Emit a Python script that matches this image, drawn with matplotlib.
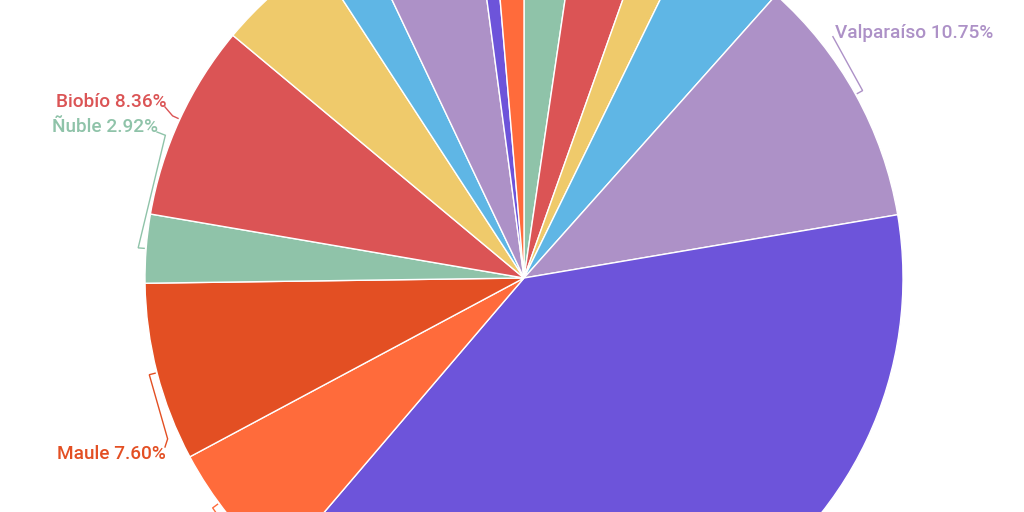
import numpy as np
import matplotlib
matplotlib.use("Agg")
from matplotlib import pyplot as plt

plt.rcParams['font.family'] = ['Roboto', 'DejaVu Sans']

# share by region (%), north to south
regions = ['Tarapacá', 'Antofagasta', 'Atacama', 'Coquimbo', 'Valparaíso',
           'Metropolitana', "O'Higgins", 'Maule', 'Ñuble', 'Biobío',
           'Araucanía', 'Los Ríos', 'Los Lagos', 'Aysén', 'Magallanes']
shares = [2.33, 3.10, 1.81, 4.34, 10.75, 38.91, 5.94, 7.60, 2.92, 8.36,
          4.75, 2.14, 4.94, 0.75, 1.36]

palette = ['#8fc3a9', '#db5455', '#efca6b', '#5fb6e5', '#ad91c7',
           '#6d54da', '#ff6b3b', '#e34f23']
colors = [palette[i % len(palette)] for i in range(len(shares))]

W, H = 1024, 512
cx, cy = 524, H - 278
R = 379

fig = plt.figure(figsize=(W / 100, H / 100), dpi=100)
ax = fig.add_axes([0, 0, 1, 1])
ax.pie(shares, colors=colors, center=(cx, cy), radius=R, startangle=90,
       counterclock=False, wedgeprops=dict(edgecolor='white', linewidth=1.0))
ax.set_xlim(0, W)
ax.set_ylim(0, H)
ax.set_aspect('equal')
ax.axis('off')

total = float(sum(shares))
cum = np.cumsum([0] + shares)
mids = {r: 360 * (cum[i] + shares[i] / 2) / total for i, r in enumerate(regions)}


def P(a, r):
    # angle clockwise from 12 o'clock, returns data coords (y up)
    t = np.radians(a)
    return cx + r * np.sin(t), cy + r * np.cos(t)


def px(x, y):
    return x, H - y


# label layout: (extra leader points after the tick, text x, text y (px from top), ha)
labels = {
    'Valparaíso': ([P(52, 392)], 835, 31, 'left'),
    'Biobío': ([px(165, 107)], 166, 100, 'right'),
    'Ñuble': ([P(291.7, 386), px(157, 132)], 158, 125, 'right'),
    'Maule': ([P(245.7, 391), px(165, 447)], 166, 452, 'right'),
}

for name, (pts, tx, ty, ha) in labels.items():
    col = colors[regions.index(name)]
    m = mids[name]
    line = [P(m, 381), P(m, 387)] + pts
    xs, ys = zip(*line)
    ax.plot(xs, ys, color=col, lw=1.0, solid_joinstyle='miter')
    i = regions.index(name)
    ax.text(tx, H - ty, '%s %.2f%%' % (name, shares[i]), color=col,
            fontsize=13.7, fontweight='medium', ha=ha, va='center_baseline')

# O'Higgins leader, its label sits below the frame
m = mids["O'Higgins"]
line = [P(m + 2.4, 381), P(m + 2.4, 387), P(m - 3, 390)]
xs, ys = zip(*line)
ax.plot(xs, ys, color=colors[regions.index("O'Higgins")], lw=1.0)

plt.savefig('out.png', dpi=100)
